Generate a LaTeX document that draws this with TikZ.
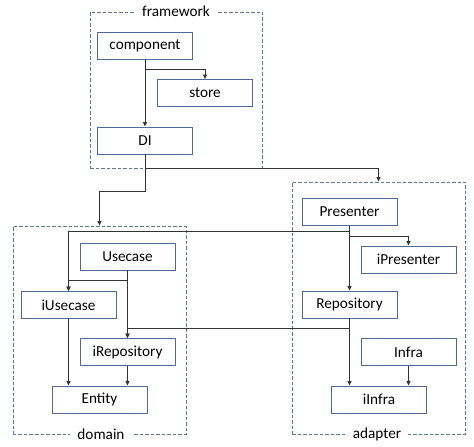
\documentclass[tikz,border=0pt]{standalone}
\usepackage{fontspec}
\setmainfont{Carlito}
\usetikzlibrary{arrows.meta,calc}
\definecolor{boxblue}{HTML}{4F6A96}
\definecolor{dashblue}{HTML}{5F7898}
\definecolor{linegray}{HTML}{333333}
\begin{document}
\begin{tikzpicture}[x=1bp,y=-1bp,
  comp/.style={draw=boxblue,line width=0.9bp,fill=white,minimum width=95bp,minimum height=27bp,inner sep=0pt,font=\fontsize{15.3}{17}\selectfont,text=black},
  group/.style={draw=dashblue,dashed,dash pattern=on 3.5bp off 2bp,line width=0.8bp,inner sep=0pt},
  glabel/.style={fill=white,inner xsep=7bp,inner ysep=3bp,font=\fontsize{15.3}{17}\selectfont,text=black},
  conn/.style={draw=linegray,line width=1bp,-{Triangle[length=4.5bp,width=4bp]}}]
\useasboundingbox (0,0) rectangle (474,447);
% groups
\node[group,minimum width=172bp,minimum height=156bp] (framework) at (176,90) {};
\node[group,minimum width=173bp,minimum height=208bp] (domain) at (99.5,330) {};
\node[group,minimum width=173bp,minimum height=252bp] (adapter) at (378.5,308) {};
% components
\node[comp] (component) at (145,45.5) {component};
\node[comp] (store) at (205,93) {store};
\node[comp] (DI) at (145,140.5) {DI};
\node[comp] (Usecase) at (127.5,256.5) {Usecase};
\node[comp] (iUsecase) at (68.5,305) {iUsecase};
\node[comp] (iRepository) at (127.5,352) {iRepository};
\node[comp] (Entity) at (99.5,399.5) {Entity};
\node[comp] (Presenter) at (349.5,212) {Presenter};
\node[comp] (iPresenter) at (408.5,259.5) {iPresenter};
\node[comp] (Repository) at (349.5,304.5) {Repository};
\node[comp] (Infra) at (408.5,352) {Infra};
\node[comp] (iInfra) at (379,399.5) {iInfra};
% connectors
\draw[conn] (component.south) -- (DI.north);
\draw[conn] (component.south) ++(0,10) -| (store.north);
\draw[conn] (DI.south) -- ++(0,14) -| (adapter.north);
\draw[conn] (DI.south) -- ++(0,37) -| (domain.north);
\draw[conn] (Presenter.south) -- ++(0,6) -| (iUsecase.north);
\draw[conn] (Presenter.south) ++(0,11) -| (iPresenter.north);
\draw[conn] (Presenter.south) -- (Repository.north);
\draw[conn] (Usecase.south) ++(0,10) -| (iUsecase.north);
\draw[conn] (Usecase.south) -- (iRepository.north);
\draw[conn] (Repository.south) -- ++(0,10) -| (iRepository.north);
\draw[conn] (Repository.south) -- (Repository.south |- iInfra.north);
\draw[conn] (Infra.south) -- (Infra.south |- iInfra.north);
\draw[conn] (iUsecase.south) -- (iUsecase.south |- Entity.north);
\draw[conn] (iRepository.south) -- (iRepository.south |- Entity.north);
% group labels
\node[glabel] (fwlabel) at (framework.north) {framework};
\node[glabel] (domlabel) at ($(domain.south)+(1.5,0)$) {domain};
\node[glabel] (adlabel) at ($(adapter.south)+(-1.5,0)$) {adapter};
\end{tikzpicture}
\end{document}
